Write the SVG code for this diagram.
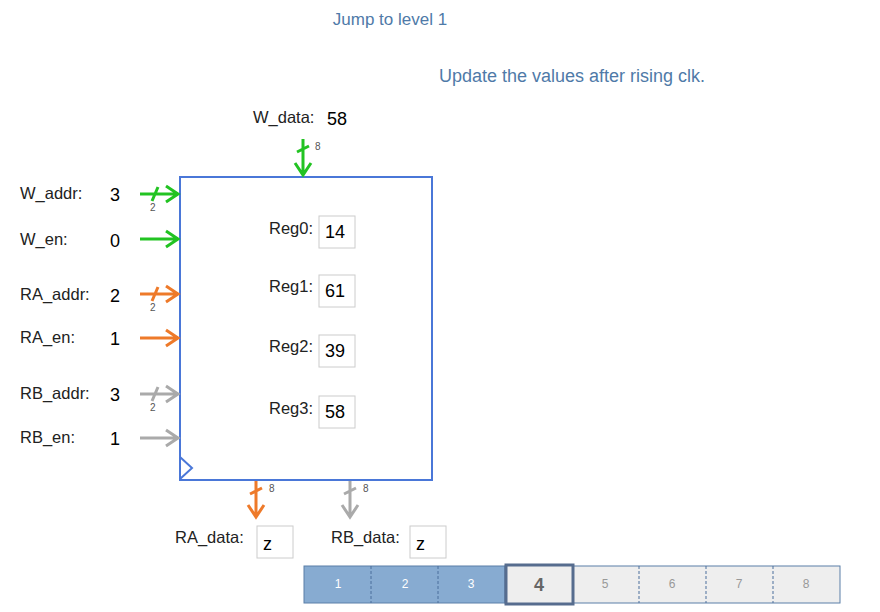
<svg xmlns="http://www.w3.org/2000/svg" width="880" height="612" viewBox="0 0 880 612">
<style>
text{font-family:"Liberation Sans",Arial,sans-serif}
.lbl{font-size:16.5px;fill:#222}
.val{font-size:18px;fill:#000}
.w{font-size:10px;fill:#555}
.g{stroke:#22c322;stroke-width:3;fill:none}
.o{stroke:#ee7a2a;stroke-width:3;fill:none}
.y{stroke:#aaaaaa;stroke-width:3;fill:none}
.box{fill:#fff;stroke:#ccc;stroke-width:1}
.nav{font-size:12px;text-anchor:middle}
</style>
<rect width="880" height="612" fill="#fff"/>
<text x="390" y="25" font-size="17" fill="#4f7aa8" text-anchor="middle">Jump to level 1</text>
<text x="572" y="82" font-size="18" fill="#4f7aa8" text-anchor="middle">Update the values after rising clk.</text>
<g id="regfile">
<rect x="180" y="177" width="252" height="303" fill="#fff" stroke="#4a77d8" stroke-width="2"/>
<path d="M180 457 L192 468 L180 479" fill="none" stroke="#4a77d8" stroke-width="2"/>
<text class="lbl" x="269" y="234">Reg0:</text><rect class="box" x="319" y="216" width="36" height="32"/><text class="val" x="325" y="238">14</text>
<text class="lbl" x="269" y="292">Reg1:</text><rect class="box" x="319" y="275" width="36" height="32"/><text class="val" x="325" y="297">61</text>
<text class="lbl" x="269" y="352">Reg2:</text><rect class="box" x="319" y="335" width="36" height="32"/><text class="val" x="325" y="357">39</text>
<text class="lbl" x="269" y="414">Reg3:</text><rect class="box" x="319" y="396" width="36" height="32"/><text class="val" x="325" y="418">58</text>
</g>
<g id="inputs">
<text class="lbl" x="20" y="199">W_addr:</text><text class="val" x="110" y="201">3</text>
<text class="lbl" x="20" y="245">W_en:</text><text class="val" x="110" y="247">0</text>
<text class="lbl" x="20" y="300">RA_addr:</text><text class="val" x="110" y="302">2</text>
<text class="lbl" x="20" y="343">RA_en:</text><text class="val" x="110" y="345">1</text>
<text class="lbl" x="20" y="399">RB_addr:</text><text class="val" x="110" y="401">3</text>
<text class="lbl" x="20" y="443">RB_en:</text><text class="val" x="110" y="445">1</text>
<text class="lbl" x="253" y="123">W_data:</text><text class="val" x="327" y="125">58</text>
<text class="lbl" x="175" y="543">RA_data:</text><rect class="box" x="257" y="526" width="36" height="32"/><text class="val" x="263" y="550">z</text>
<text class="lbl" x="331" y="543">RB_data:</text><rect class="box" x="410" y="526" width="36" height="32"/><text class="val" x="416" y="550">z</text>
</g>
<g id="connectors">
<path class="g" d="M140 194 H178 M166 186 L178 194 L166 202 M152 201 L158 187"/><text class="w" x="150" y="211">2</text>
<path class="g" d="M140 239 H178 M166 231 L178 239 L166 247"/>
<path class="o" d="M140 294 H178 M166 286 L178 294 L166 302 M152 301 L158 287"/><text class="w" x="150" y="311">2</text>
<path class="o" d="M140 338 H178 M166 330 L178 338 L166 346"/>
<path class="y" d="M140 394 H178 M166 386 L178 394 L166 402 M152 401 L158 387"/><text class="w" x="150" y="411">2</text>
<path class="y" d="M140 438 H178 M166 430 L178 438 L166 446"/>
<path class="g" d="M303 139 V175 M295 163 L303 175 L311 163 M297 152 L309 146"/><text class="w" x="315" y="150">8</text>
<path class="o" d="M256 481 V517 M248 505 L256 517 L264 505 M250 494 L262 488"/><text class="w" x="269" y="492">8</text>
<path class="y" d="M350 481 V517 M342 505 L350 517 L358 505 M344 494 L356 488"/><text class="w" x="363" y="492">8</text>
</g>
<g id="levels">
<rect x="304" y="566" width="201" height="37" fill="#87abd1" stroke="#5a7fa8"/>
<rect x="505" y="566" width="335" height="37" fill="#eeeeee" stroke="#5a7fa8"/>
<path d="M371 566 V603 M438 566 V603 M639 566 V603 M706 566 V603 M773 566 V603" stroke="#4a6f9c" stroke-dasharray="3,2"/>
<rect x="506" y="565" width="67" height="39" fill="#eeeeee" stroke="#566c8e" stroke-width="3"/>
<text class="nav" x="338" y="588" fill="#fff">1</text>
<text class="nav" x="405" y="588" fill="#fff">2</text>
<text class="nav" x="471" y="588" fill="#fff">3</text>
<text x="539" y="591" font-size="18" font-weight="bold" fill="#666" text-anchor="middle">4</text>
<text class="nav" x="605" y="588" fill="#999">5</text>
<text class="nav" x="672" y="588" fill="#999">6</text>
<text class="nav" x="739" y="588" fill="#999">7</text>
<text class="nav" x="806" y="588" fill="#999">8</text>
</g>
</svg>
